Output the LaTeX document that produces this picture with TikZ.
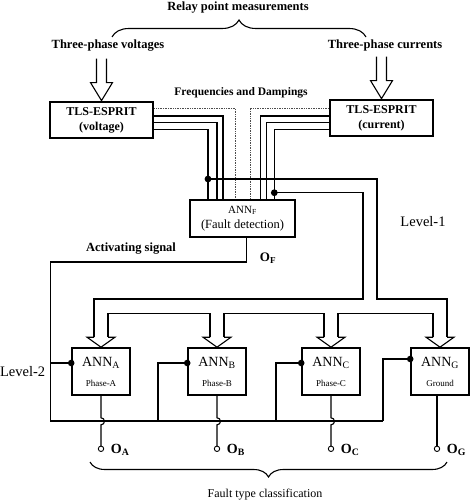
\documentclass[tikz,border=0pt]{standalone}
\usepackage{fontspec}
\setmainfont{Liberation Serif}
\usetikzlibrary{calc, positioning}
\usetikzlibrary{decorations.pathreplacing}

\begin{document}
\begin{tikzpicture}[x=1pt, y=-1pt, line width=1.1pt,
  lbl/.style={font=\fontsize{12.5}{15}\selectfont\bfseries},
  txt/.style={font=\fontsize{14.5}{16}\selectfont},
  tls/.style={draw, line width=2.8pt, minimum width=103pt, minimum height=36pt,
    inner sep=0pt, align=center, font=\fontsize{12}{15}\selectfont\bfseries},
  detbox/.style={draw, line width=2.2pt, minimum width=105pt, minimum height=37pt,
    inner sep=0pt, align=center, font=\fontsize{12.5}{15}\selectfont},
  clsbox/.style={draw, line width=1.6pt, minimum width=58pt, minimum height=47pt,
    inner sep=0pt, align=center, font=\fontsize{14}{16}\selectfont},
  dotline/.style={densely dotted, line width=0.7pt, black!70},
  outlbl/.style={anchor=west, font=\fontsize{14}{16}\selectfont\bfseries}]
\useasboundingbox (0,0) rectangle (474,503);

\node[lbl] (relay) at (238,8) {Relay point measurements};
\node[lbl] (tv) at (108,46) {Three-phase voltages};
\node[lbl] (tc) at (385,45) {Three-phase currents};
\draw[decorate, decoration={brace, amplitude=17pt}] (112,37) -- (366,37);

\node[tls] (tlsv) at (101.5,120) {TLS-ESPRIT\\(voltage)};
\node[tls] (tlsc) at (381.5,118) {TLS-ESPRIT\\(current)};
\foreach \b in {tlsv, tlsc}
  \draw ($(\b.north)+(-5,-42)$) -- ++(0,24) -- ++(-6,0) -- (\b.north)
    -- ++(11,-18) -- ++(-6,0) -- ++(0,-24);

\node[lbl, font=\fontsize{11.5}{14}\selectfont\bfseries] (freq) at (241,93) {Frequencies and Dampings};

\node[detbox] (annf) at (242.5,218.5)
  {{\fontsize{11}{13}\selectfont ANN\textsubscript{F}}\\(Fault detection)};

\draw[dotline] (tlsv.east |- 0,108) -| (annf.north -| 235,0);
\draw[dotline] (tlsc.west |- 0,108) -| (annf.north -| 250,0);
\foreach \yy/\xx in {116/223, 122.7/217, 129.3/208}
  \draw (tlsv.east |- 0,\yy) -| (annf.north -| \xx,0);
\foreach \yy/\xx in {116/260.7, 122.7/266.7, 129.7/274.3}
  \draw (tlsc.west |- 0,\yy) -| (annf.north -| \xx,0);

\coordinate (ldot) at (208,179);
\coordinate (rdot) at (274.3,192.7);
\coordinate (lc) at (377,299);
\coordinate (rc) at (363,299);
\fill (ldot) circle (3.4);
\fill (rdot) circle (3.4);

\node[txt] (lv1) at (423,222) {Level-1};
\node[lbl] (act) at (131,249) {Activating signal};
\node[outlbl, anchor=center, font=\fontsize{13}{15}\selectfont\bfseries] (of) at (268,258) {O\textsubscript{F}};

\node[clsbox] (annA) at (101,371.5) {ANN\textsubscript{A}\\[4pt]{\fontsize{9}{10}\selectfont Phase-A}};
\node[clsbox] (annB) at (217,371.5) {ANN\textsubscript{B}\\[4pt]{\fontsize{9}{10}\selectfont Phase-B}};
\node[clsbox] (annC) at (331,371.5) {ANN\textsubscript{C}\\[4pt]{\fontsize{9}{10}\selectfont Phase-C}};
\node[clsbox] (annG) at (440,371.5) {ANN\textsubscript{G}\\[4pt]{\fontsize{9}{10}\selectfont Ground}};

\draw (rdot) -| (rc) -| ($(annA.north)+(-7,-10)$);
\draw (ldot) -| (lc) -| ($(annG.north)+(7,-10)$);
\foreach \a/\b in {annA/annB, annB/annC, annC/annG}
  \draw ($(\a.north)+(7,-10)$) |- ($(\b.north)+(-7,-34)$) -- ++(0,24);
\foreach \n in {annA, annB, annC, annG}
  \draw ($(\n.north)+(-7,-10)$) -- ++(-7,0) -- (\n.north) -- ++(14,-10) -- ++(-7,0);

\coordinate (corner) at (50.7,262);
\coordinate (busL) at (50.7,421);
\coordinate (busR) at (383,421);
\draw ($(annf.south)+(4,0)$) |- (corner) -- (busL) -- (busR);
\fill ($(annA.west)+(0,-8.5)$) circle (3.3);
\draw ($(annA.west)+(0,-8.5)$) -- (corner |- 0,363);
\foreach \n/\xx/\dy in {annB/158/-8.5, annC/276/-8.5, annG/383/-12.5} {
  \fill ($(\n.west)+(0,\dy)$) circle (3.3);
  \draw ($(\n.west)+(0,\dy)$) -| (busL -| \xx,0);
}

\foreach \n/\l in {annA/A, annB/B, annC/C} {
  \draw (\n.south) -- ++(0,22) arc[start angle=-90, end angle=90, radius=3.5] -- ++(0,21);
  \draw[fill=white, line width=0.9pt] ($(\n.south)+(0,53)$) circle (2.7);
  \node[outlbl] (o\l) at ($(\n.south)+(6,54)$) {O\textsubscript{\l}};
}
\draw ($(annG.south)+(-3,0)$) -- ++(0,50);
\draw[fill=white, line width=0.9pt] ($(annG.south)+(-3,53)$) circle (2.7);
\node[outlbl] (oG) at ($(annG.south)+(3,54)$) {O\textsubscript{G}};

\node[txt, anchor=east] (lv2) at (49,372) {Level-2};

\draw[decorate, decoration={brace, amplitude=15pt}] (447,462) -- (90,462);
\node[font=\fontsize{12}{14}\selectfont] (ftc) at (265,495) {Fault type classification};
\end{tikzpicture}
\end{document}
